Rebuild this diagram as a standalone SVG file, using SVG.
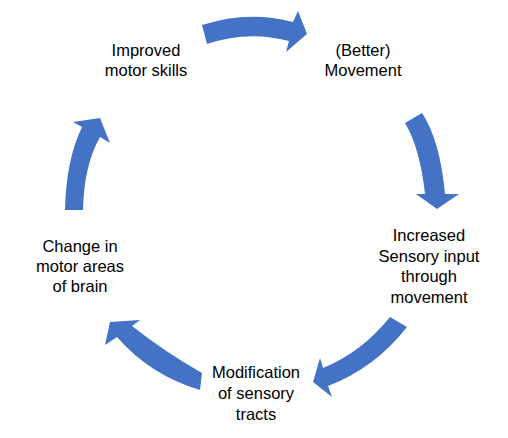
<svg xmlns="http://www.w3.org/2000/svg" width="508" height="438" viewBox="0 0 508 438">
<style>
.arr{fill:#4472C4;stroke:none}
.lbl{font-family:"Liberation Sans",Arial,sans-serif;font-size:16.5px;fill:#000;text-anchor:middle}
</style>
<rect width="508" height="438" fill="#fff"/>
<g id="connectors">
<path class="arr" d="M202,25 Q248,10 293,22 L298,11 L307,34 L286,52 L289,41 Q248,30 207,44 Z"/>
<path class="arr" d="M405,123 L422,113 Q440,140 445,194 L459,194 L437,209 L416,194 L425,194 Q420,148 405,123 Z"/>
<path class="arr" d="M390,317 L407,327 Q375,368 328,386 L332,397 L313,382 L320,358 L323,368 Q362,352 390,317 Z"/>
<path class="arr" d="M202,373 L200,390 Q150,375 117,337 L105,345 L110,322 L140,320 L132,326 Q165,352 202,373 Z"/>
<path class="arr" d="M65,210 L83,210 Q84,165 100,137 L110,143 L100,118 L73,122 L82,127 Q66,160 65,210 Z"/>
</g>
<g id="n1"><text class="lbl" x="146" y="56">Improved</text><text class="lbl" x="146" y="76">motor skills</text></g>
<g id="n2"><text class="lbl" x="363" y="56">(Better)</text><text class="lbl" x="363" y="76">Movement</text></g>
<g id="n3"><text class="lbl" x="429" y="241">Increased</text><text class="lbl" x="429" y="262">Sensory input</text><text class="lbl" x="429" y="282">through</text><text class="lbl" x="429" y="303">movement</text></g>
<g id="n4"><text class="lbl" x="256" y="378">Modification</text><text class="lbl" x="256" y="399">of sensory</text><text class="lbl" x="256" y="420">tracts</text></g>
<g id="n5"><text class="lbl" x="80" y="252">Change in</text><text class="lbl" x="80" y="272">motor areas</text><text class="lbl" x="80" y="292">of brain</text></g>
</svg>
